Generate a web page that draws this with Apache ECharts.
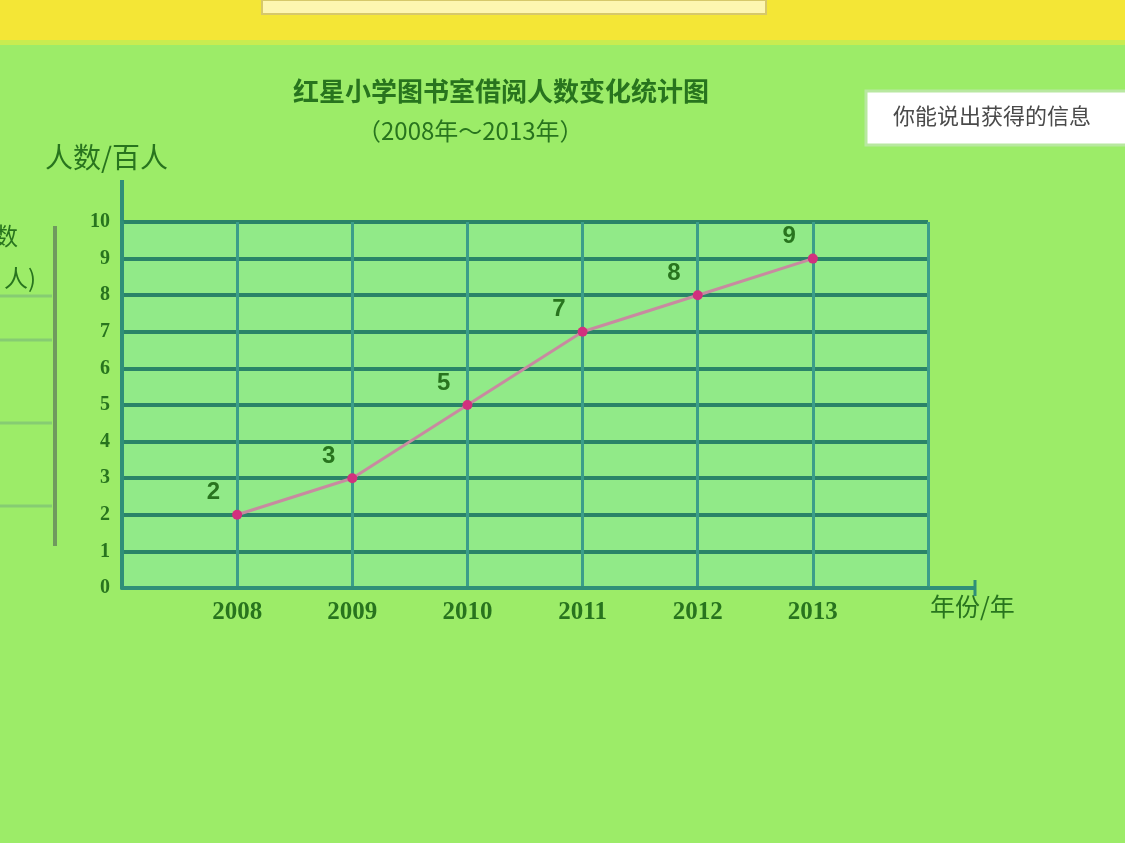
<!DOCTYPE html>
<html><head><meta charset="utf-8">
<script src="https://cdn.jsdelivr.net/npm/echarts@6/dist/echarts.min.js"></script>
<style>html,body{margin:0;padding:0;background:#9cec68;}#c{width:1125px;height:843px;}</style>
</head><body><div id="c"></div>
<script>
var years = [2008, 2009, 2010, 2011, 2012, 2013];
var readers = [2, 3, 5, 7, 8, 9];
var yTicks = [0,1,2,3,4,5,6,7,8,9,10];
var titleText = '红星小学图书室借阅人数变化统计图';
var subTitleText = '（2008年～2013年）';
var yName = '人数/百人';
var xName = '年份/年';
var noteText = '你能说出获得的信息';

var chart = echarts.init(document.getElementById('c'), null, {renderer:'canvas'});
var green = '#28741e';
var teal = '#2f8f78';
var option = {
  backgroundColor: '#9cec68',
  animation: false,
  title: [
    {text: titleText, left: 288, top: 73, textStyle:{fontFamily:'Noto Sans CJK SC', fontSize:26, fontWeight:'bold', color:green}},
    {text: subTitleText, left: 352, top: 114, textStyle:{fontFamily:'Noto Sans CJK SC', fontSize:24, fontWeight:'normal', color:green}}
  ],
  grid: {left:122, right:197, top:222, bottom:255, show:true, backgroundColor:'#91ea88', borderWidth:0},
  xAxis: {
    type:'value', min:2007, max:2014, interval:1,
    axisLine:{show:true, onZero:false, lineStyle:{color:teal, width:4}},
    axisTick:{show:false},
    splitLine:{show:true, lineStyle:{color:'#3b9e8a', width:3}},
    axisLabel:{margin:12, color:green, fontFamily:'Liberation Serif', fontSize:25, fontWeight:'bold',
      formatter:function(v){ return years.indexOf(v) >= 0 ? String(v) : ''; }}
  },
  yAxis: {
    type:'value', min:0, max:10, interval:1,
    axisLine:{show:true, lineStyle:{color:teal, width:4}},
    axisTick:{show:false},
    splitLine:{show:true, lineStyle:{color:'#2a8468', width:4}},
    axisLabel:{margin:12, color:green, fontFamily:'Liberation Sans Narrow', fontSize:20, fontWeight:'bold',
      formatter:function(v){ return yTicks.indexOf(v) >= 0 ? String(v) : ''; }}
  },
  series: [{
    type:'line',
    data: years.map(function(y,i){ return [y, readers[i]]; }),
    lineStyle:{color:'#c88aa0', width:3},
    symbol:'circle', symbolSize:10,
    itemStyle:{color:'#d2307e'},
    label:{show:true, position:'left', distance:12, offset:[0,-22], color:green, fontFamily:'Liberation Sans', fontSize:24, fontWeight:'bold'}
  }],
  graphic: [
    {type:'rect', shape:{x:0,y:0,width:1125,height:42}, style:{fill:'#f4e636'}, z:-10},
    {type:'rect', shape:{x:0,y:40,width:1125,height:5}, style:{fill:'#c8ec50'}, z:-10},
    {type:'rect', shape:{x:262,y:0,width:504,height:14}, style:{fill:'#fdf6b0', stroke:'#d6c86a', lineWidth:2}, z:-9},
    {type:'rect', shape:{x:866,y:91,width:270,height:54}, style:{fill:'#ffffff', stroke:'#b8e8a0', lineWidth:3}},
    {type:'text', left:893, top:105, style:{text:noteText, fill:'#4a4a4a', fontFamily:'Noto Sans CJK SC', fontSize:22}},
    {type:'text', left:45, top:143, style:{text:yName, fill:green, fontFamily:'Noto Sans CJK SC', fontSize:28}},
    {type:'text', left:930, top:594, style:{text:xName, fill:green, fontFamily:'Noto Sans CJK SC', fontSize:25}},
    {type:'line', shape:{x1:122,y1:180,x2:122,y2:222}, style:{stroke:teal, lineWidth:4}},
    {type:'line', shape:{x1:928,y1:588,x2:975,y2:588}, style:{stroke:teal, lineWidth:4}},
    {type:'line', shape:{x1:975,y1:580,x2:975,y2:596}, style:{stroke:teal, lineWidth:3}},
    {type:'line', shape:{x1:55,y1:226,x2:55,y2:546}, style:{stroke:'#6f9a5e', lineWidth:4}},
    {type:'text', left:-6, top:224, style:{text:'数', fill:green, fontFamily:'Noto Sans CJK SC', fontSize:24}},
    {type:'text', left:4, top:266, style:{text:'人)', fill:green, fontFamily:'Noto Sans CJK SC', fontSize:24}},
    {type:'line', shape:{x1:0,y1:296,x2:52,y2:296}, style:{stroke:'#86cc72', lineWidth:3}},
    {type:'line', shape:{x1:0,y1:340,x2:52,y2:340}, style:{stroke:'#86cc72', lineWidth:3}},
    {type:'line', shape:{x1:0,y1:423,x2:52,y2:423}, style:{stroke:'#86cc72', lineWidth:3}},
    {type:'line', shape:{x1:0,y1:506,x2:52,y2:506}, style:{stroke:'#86cc72', lineWidth:3}}
  ]
};
chart.setOption(option);
</script></body></html>
